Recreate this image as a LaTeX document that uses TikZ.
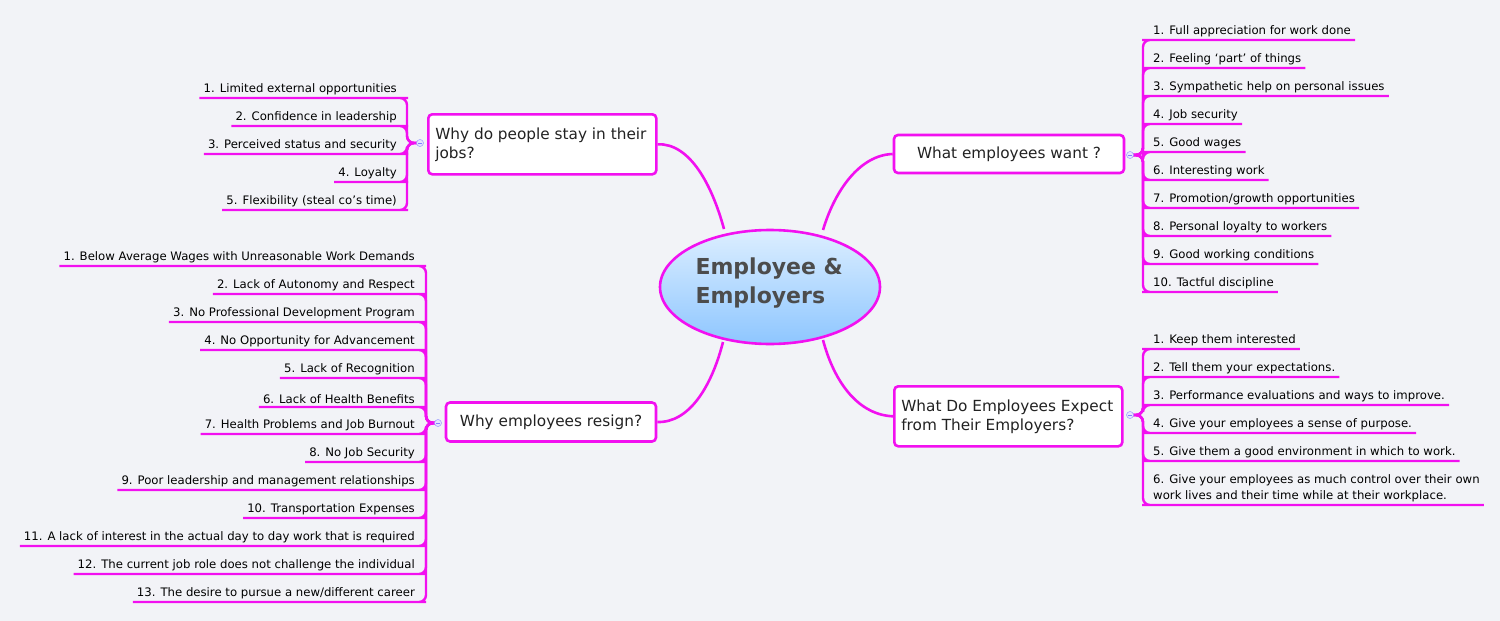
\documentclass[tikz,border=0pt]{standalone}
\usepackage{fontspec}
\setmainfont{DejaVu Sans}
\usetikzlibrary{shapes.geometric,calc}
\begin{document}
\begin{tikzpicture}[x=1pt,y=-1pt,
  br/.style={draw=mag,line width=2.4pt,rounded corners=7pt},
  cn/.style={draw=mag,line width=2.6pt},
  topic/.style={draw=mag,line width=2.6pt,fill=white,rounded corners=4pt,font=\fontsize{15.3}{19}\selectfont,text=txt,align=flush left,inner xsep=8pt,inner ysep=4pt},
  itemR/.style={anchor=south west,font=\fontsize{11.7}{16}\selectfont,inner xsep=4pt,inner ysep=3pt,align=left},
  itemL/.style={anchor=south east,font=\fontsize{11.7}{16}\selectfont,inner xsep=4pt,inner ysep=3pt},
  hubc/.style={circle,draw=blue!40,fill=blue!10,line width=0.5pt,minimum size=7pt,inner sep=0pt}]
\definecolor{mag}{HTML}{F210F0}
\definecolor{txt}{HTML}{222222}
\definecolor{bg}{HTML}{F2F3F7}
\definecolor{ctop}{HTML}{DCEEFF}
\definecolor{cbot}{HTML}{8EC6FF}
\fill[bg] (0,0) rectangle (1500,621);
\useasboundingbox (0,0) rectangle (1500,621);

% central
\node[ellipse,draw=mag,line width=2.6pt,minimum width=220pt,minimum height=114pt,top color=ctop,bottom color=cbot] (c) at (770,287) {};
\node[font=\fontsize{22}{29}\selectfont\bfseries,text=black!70,align=left,anchor=west] (ct) at (692,283) {Employee \&\\Employers};

% topics
\node[topic,minimum height=60pt,anchor=north west,text width=214pt,inner xsep=7pt] (t1) at (427,113) {Why do people stay in their\\jobs?};
\node[topic,minimum width=230pt,minimum height=38pt,anchor=center] (t2) at (1009,154) {What employees want ?};
\node[topic,minimum height=60pt,anchor=north west,text width=214pt,inner xsep=7pt] (t3) at (893,385) {What Do Employees Expect\\from Their Employers?};
\node[topic,minimum width=210pt,minimum height=39pt,anchor=center] (t4) at (551,422) {Why employees resign?};

\draw[cn] (t1.east) .. controls (690,143) and (712,185) .. (724,229);
\draw[cn] (t2.west) .. controls (860,155) and (835,190) .. (823,230);
\draw[cn] (t3.west) .. controls (860,415) and (835,385) .. (823,340);
\draw[cn] (t4.east) .. controls (690,423) and (712,385) .. (723,342);

% hubs
\coordinate (h1) at (420,143);
\coordinate (h2) at (1130,155);
\coordinate (h3) at (1130,415);
\coordinate (h4) at (438,423);

% right top items
\foreach \i/\y/\t in {1/40/{1. Full appreciation for work done},2/68/{2. Feeling ‘part’ of things},3/96/{3. Sympathetic help on personal issues},4/124/{4. Job security},5/152/{5. Good wages},6/180/{6. Interesting work},7/208/{7. Promotion/growth opportunities},8/236/{8. Personal loyalty to workers},9/264/{9. Good working conditions},10/292/{10. Tactful discipline}}{
  \node[itemR] (a\i) at (1149,\y) {\t};
  \draw[br] (h2) -- (1143,155) |- (a\i.south west) -- (a\i.south east);
}
% right bottom items
\foreach \i/\y/\t in {1/349/{1. Keep them interested},2/377/{2. Tell them your expectations.},3/405/{3. Performance evaluations and ways to improve.},4/433/{4. Give your employees a sense of purpose.},5/461/{5. Give them a good environment in which to work.},6/505/{6. Give your employees as much control over their own\\work lives and their time while at their workplace.}}{
  \node[itemR] (b\i) at (1149,\y) {\t};
  \draw[br] (h3) -- (1143,415) |- (b\i.south west) -- (b\i.south east);
}
% left top items
\foreach \i/\y/\t in {1/98/{1. Limited external opportunities},2/126/{2. Confidence in leadership},3/154/{3. Perceived status and security},4/182/{4. Loyalty},5/210/{5. Flexibility (steal co's time)}}{
  \node[itemL] (l\i) at (401,\y) {\t};
  \draw[br] (h1) -- (407,143) |- (l\i.south east) -- (l\i.south west);
}
% left bottom items
\foreach \i/\y/\t in {1/266/{1. Below Average Wages with Unreasonable Work Demands},2/294/{2. Lack of Autonomy and Respect},3/322/{3. No Professional Development Program},4/350/{4. No Opportunity for Advancement},5/378/{5. Lack of Recognition},6/407/{6. Lack of Health Benefits},7/434/{7. Health Problems and Job Burnout},8/462/{8. No Job Security},9/490/{9. Poor leadership and management relationships},10/518/{10. Transportation Expenses},11/546/{11. A lack of interest in the actual day to day work that is required},12/574/{12. The current job role does not challenge the individual},13/602/{13. The desire to pursue a new/different career}}{
  \node[itemL] (m\i) at (419,\y) {\t};
  \draw[br] (h4) -- (426,423) |- (m\i.south east) -- (m\i.south west);
}

\foreach \h in {h1,h2,h3,h4}{
  \node[hubc] at (\h) {};
  \draw[blue!50,line width=0.5pt] ($(\h)+(-2,0)$) -- ($(\h)+(2,0)$);
}
\end{tikzpicture}
\end{document}
